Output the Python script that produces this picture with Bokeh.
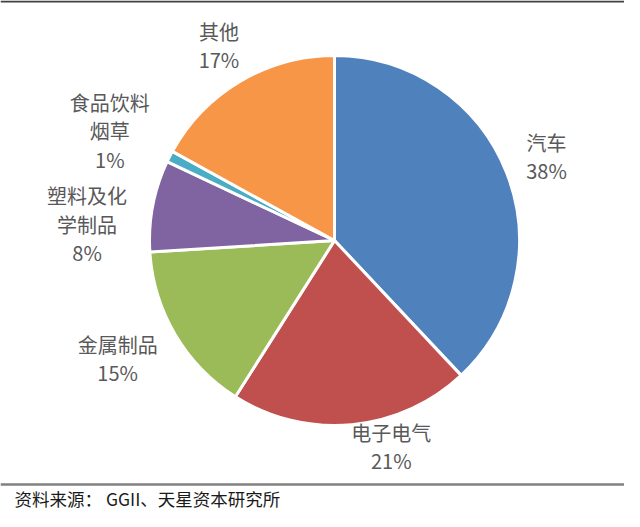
import math
from bokeh.plotting import figure
from bokeh.models import Range1d
from bokeh.core.properties import value
from bokeh.embed import file_html
from bokeh.resources import INLINE

# ---- data ----
categories = ["汽车", "电子电气", "金属制品", "塑料及化学制品", "食品饮料烟草", "其他"]
shares = [38, 21, 15, 8, 1, 17]
label_texts = ["汽车\n38%", "电子电气\n21%", "金属制品\n15%", "塑料及化\n学制品\n8%", "食品饮料\n烟草\n1%", "其他\n17%"]
colors = ["#4F81BD", "#C0504D", "#9BBB59", "#8064A2", "#4BACC6", "#F79646"]
source_text = "资料来源： GGII、天星资本研究所"

# ---- layout / style ----
W, H = 624, 511
cx, cy = 342, 279          # pie centre (data units = pixels)
R = 185
label_r = [228, 214, 247, 248, 250, 227]
label_dang = [0, -10, 2, -7, -1, 0]   # degrees nudge
font = "Noto Sans CJK SC"

p = figure(width=W, height=H, x_range=Range1d(8, 8 + W), y_range=Range1d(8, 8 + H),
           output_backend="svg", toolbar_location=None, min_border=0)
p.axis.visible = False
p.grid.visible = False
p.outline_line_color = None
p.background_fill_color = "white"

total = float(sum(shares))
starts, ends, lx, ly = [], [], [], []
cum = 0.0
for i, s in enumerate(shares):
    a0 = cum / total
    cum += s
    a1 = cum / total
    starts.append(math.pi / 2 - 2 * math.pi * a0)
    ends.append(math.pi / 2 - 2 * math.pi * a1)
    mid = (a0 + a1) / 2 * 360 + label_dang[i]
    t = math.radians(mid)
    lx.append(cx + label_r[i] * math.sin(t))
    ly.append(cy + label_r[i] * math.cos(t))

p.wedge(x=cx, y=cy, radius=R, start_angle=starts, end_angle=ends, direction="clock",
        fill_color=colors, line_color="white", line_width=3)

p.text(x=lx, y=ly, text=label_texts, text_align="center", text_baseline="middle",
       text_font=value(font), text_font_size="20px", text_color="#595959",
       text_line_height=0.97)

# rules
p.segment(x0=[8, 8], y0=[518, 35], x1=[632, 632], y1=[518, 35],
          line_color=["#404040", "#808080"], line_width=[2, 2.5])

p.text(x=[22], y=[21], text=[source_text], text_align="left", text_baseline="middle",
       text_font=value(font), text_font_size="17.5px", text_color="#1a1a1a")

open("out.html", "w").write(file_html(p, INLINE))
